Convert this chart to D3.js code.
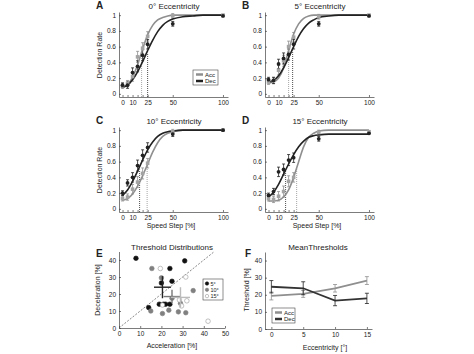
<!DOCTYPE html>
<html>
<head>
<meta charset="utf-8">
<script src="https://cdn.jsdelivr.net/npm/d3@7"></script>
<style>
body { margin: 0; background: #fff; }
svg { font-family: "Liberation Sans", Arial, sans-serif; }
.axis text { font-size: 6.5px; fill: #222; }
.axis path, .axis line { stroke: #444; stroke-width: 0.7; }
</style>
</head>
<body>
<script>
// speed steps and tick labels (A-D)
var stepX = [0, 5, 10, 15, 20, 25, 50, 100];
var stepTicks = [0, 5, 10, 15, 20, 25, 50, 100];
var stepLabels = {0: "0", 10: "10", 25: "25", 50: "50", 100: "100"};
var rateTicks = [0, 0.2, 0.4, 0.6, 0.8, 1];

// fitted curves at these speed steps
var fitX = [0, 5, 10, 15, 20, 25, 30, 35, 40, 45, 50, 60, 70, 80, 100];
var fitAccA = [0.08, 0.12, 0.21, 0.37, 0.57, 0.75, 0.87, 0.94, 0.97, 0.99, 1.0, 1.0, 1.0, 1.0, 1.0];
var fitDecA = [0.08, 0.11, 0.18, 0.28, 0.41, 0.55, 0.68, 0.79, 0.87, 0.92, 0.95, 0.98, 0.99, 1.0, 1.0];
var fitAccB = [0.14, 0.15, 0.20, 0.33, 0.55, 0.76, 0.89, 0.96, 0.99, 1.0, 1.0, 1.0, 1.0, 1.0, 1.0];
var fitDecB = [0.15, 0.17, 0.23, 0.33, 0.46, 0.60, 0.73, 0.83, 0.90, 0.94, 0.97, 0.99, 1.0, 1.0, 1.0];
var fitAccC = [0.11, 0.13, 0.19, 0.29, 0.42, 0.57, 0.72, 0.84, 0.92, 0.96, 0.98, 1.0, 1.0, 1.0, 1.0];
var fitDecC = [0.17, 0.24, 0.35, 0.48, 0.62, 0.75, 0.85, 0.92, 0.96, 0.98, 0.99, 1.0, 1.0, 1.0, 1.0];
var fitAccD = [0.10, 0.10, 0.11, 0.15, 0.24, 0.40, 0.60, 0.79, 0.91, 0.96, 0.99, 1.0, 1.0, 1.0, 1.0];
var fitDecD = [0.15, 0.21, 0.31, 0.44, 0.57, 0.69, 0.79, 0.86, 0.91, 0.93, 0.94, 0.95, 0.95, 0.95, 0.95];

// detection rates with error bars
var accA = [0.10, 0.13, 0.22, 0.47, 0.58, 0.73, 0.99, 1.0];
var decA = [0.11, 0.11, 0.27, 0.35, 0.49, 0.63, 0.89, 0.99];
var accB = [0.15, 0.17, 0.30, 0.42, 0.60, 0.72, 0.98, 1.0];
var decB = [0.18, 0.17, 0.38, 0.45, 0.50, 0.63, 0.89, 0.99];
var accC = [0.13, 0.15, 0.25, 0.34, 0.45, 0.58, 0.98, 1.0];
var decC = [0.20, 0.33, 0.40, 0.55, 0.68, 0.78, 0.95, 1.0];
var accD = [0.13, 0.12, 0.16, 0.22, 0.35, 0.40, 0.97, 0.98];
var decD = [0.17, 0.22, 0.47, 0.50, 0.62, 0.65, 0.89, 0.96];
var errRate = [0.03, 0.04, 0.06, 0.07, 0.07, 0.06, 0.03, 0.01];

// thresholds [speed, height of dotted line]
var thrA = {acc: [19, 0.48], dec: [25, 0.52]};
var thrB = {acc: [20, 0.53], dec: [24, 0.55]};
var thrC = {acc: [24.5, 0.55], dec: [17, 0.50]};
var thrD = {acc: [28, 0.52], dec: [17, 0.48]};

// E: individual thresholds
var acc5 = [8, 24, 31, 20, 25, 14, 19, 21, 22, 24];
var dec5 = [41, 35, 39.5, 26.5, 27.5, 12, 14, 14, 14, 14];
var acc10 = [15.5, 20, 15, 20.5, 23.5, 25, 28, 31.5, 35, 29];
var dec10 = [35, 29.5, 10, 8.5, 10.5, 17.5, 9.5, 9, 22, 14.5];
var acc15 = [19.5, 31.5, 20.5, 28.5, 29.5, 32, 42];
var dec15 = [35, 30, 13.5, 16.5, 13, 16, 4];
var meanAccE = [20.5, 25, 29];
var meanDecE = [24, 18.5, 18];
var sdAccE = [4, 4, 4.5];
var sdDecE = [6.5, 4, 6];
var tensTicks = [0, 10, 20, 30, 40, 50];

// F: mean thresholds
var eccX = [0, 5, 10, 15];
var accMean = [19.3, 20.5, 23.8, 28.3];
var accSem = [2.3, 2.0, 2.2, 2.3];
var decMean = [24.7, 23.8, 16.6, 17.9];
var decSem = [3.6, 3.8, 3.0, 3.0];

var grey = "#8f8f8f", dark = "#222";

var svg = d3.select("body")
	.append("svg")
	.attr("width", 474)
	.attr("height", 354);

function label(x, y, txt, size, opts) {
	opts = opts || {};
	var t = svg.append("text")
		.attr("x", x)
		.attr("y", y)
		.attr("font-size", size)
		.attr("fill", "#222")
		.attr("text-anchor", opts.anchor || "middle")
		.attr("font-weight", opts.bold ? "bold" : "normal")
		.text(txt);
	if (opts.rotate) t.attr("transform", "rotate(-90," + x + "," + y + ")");
	return t;
}

function errBars(g, xs, ys, es, x, y, color, cap) {
	xs.forEach(function(d, i) {
		var cx = x(d), lo = y(ys[i] - es[i]), hi = y(ys[i] + es[i]);
		g.append("line").attr("x1", cx).attr("x2", cx).attr("y1", lo).attr("y2", hi)
			.attr("stroke", color).attr("stroke-width", 0.8);
		[lo, hi].forEach(function(yy) {
			g.append("line").attr("x1", cx - cap).attr("x2", cx + cap).attr("y1", yy).attr("y2", yy)
				.attr("stroke", color).attr("stroke-width", 0.8);
		});
	});
}

// psychometric panel
function psyPanel(p) {
	var x = d3.scaleLinear().domain([-3.5, 105]).range([p.left, p.left + 109]);
	var y = d3.scaleLinear().domain([-0.04, 1.04]).range([p.bottom, p.bottom - 85]);
	var g = svg.append("g");

	g.append("g")
		.attr("class", "axis")
		.attr("transform", "translate(0," + p.bottom + ")")
		.call(d3.axisBottom(x).tickValues(stepTicks).tickSizeInner(-2).tickSizeOuter(0).tickPadding(3)
			.tickFormat(function(d) { return stepLabels[d] || ""; }));
	g.append("g")
		.attr("class", "axis")
		.attr("transform", "translate(" + p.left + ",0)")
		.call(d3.axisLeft(y).tickValues(rateTicks).tickSizeInner(-2).tickSizeOuter(0).tickPadding(3)
			.tickFormat(function(d) { return d; }));

	// threshold markers
	[[p.thr.acc, grey], [p.thr.dec, dark]].forEach(function(t) {
		g.append("line")
			.attr("x1", x(t[0][0])).attr("x2", x(t[0][0]))
			.attr("y1", p.bottom).attr("y2", y(t[0][1]))
			.attr("stroke", t[1]).attr("stroke-width", 0.8).attr("stroke-dasharray", "1,1");
	});

	var line = d3.line()
		.x(function(d, i) { return x(fitX[i]); })
		.y(function(d) { return y(d); })
		.curve(d3.curveMonotoneX);

	// error bars and points
	errBars(g, stepX, p.acc, errRate, x, y, grey, 1.5);
	errBars(g, stepX, p.dec, errRate, x, y, dark, 1.5);

	g.append("path").attr("d", line(p.fitAcc)).attr("fill", "none").attr("stroke", grey).attr("stroke-width", 1.6);
	g.append("path").attr("d", line(p.fitDec)).attr("fill", "none").attr("stroke", dark).attr("stroke-width", 1.6);

	g.selectAll(".sq")
		.data(p.acc)
		.enter().append("rect")
			.attr("x", function(d, i) { return x(stepX[i]) - 1.8; })
			.attr("y", function(d) { return y(d) - 1.8; })
			.attr("width", 3.6).attr("height", 3.6)
			.attr("fill", "#a3a3a3");
	g.selectAll(".dot")
		.data(p.dec)
		.enter().append("circle")
			.attr("cx", function(d, i) { return x(stepX[i]); })
			.attr("cy", function(d) { return y(d); })
			.attr("r", 1.9)
			.attr("fill", dark);

	label(p.left + 55, p.bottom - 88, p.title, 8);
	label(p.left - 23, p.bottom - 88, p.letter, 10, {bold: true, anchor: "start"});
	if (p.ylab) label(p.left - 17, p.bottom - 42, "Detection Rate", 7, {rotate: true});
	if (p.xlab) label(p.left + 52, p.bottom + 16, "Speed Step [%]", 7);

	if (p.legend) {
		var lx = 193, ly = 70;
		g.append("rect").attr("x", lx).attr("y", ly).attr("width", 25).attr("height", 15)
			.attr("fill", "#fff").attr("stroke", "#444").attr("stroke-width", 0.6);
		[["Acc", grey], ["Dec", dark]].forEach(function(e, i) {
			g.append("line").attr("x1", lx + 3).attr("x2", lx + 10)
				.attr("y1", ly + 4.5 + i * 6.5).attr("y2", ly + 4.5 + i * 6.5)
				.attr("stroke", e[1]).attr("stroke-width", 2.5);
			g.append("text").attr("x", lx + 12).attr("y", ly + 6.7 + i * 6.5)
				.attr("font-size", 6).attr("fill", "#222").text(e[0]);
		});
	}
}

psyPanel({left: 119, bottom: 97, title: "0\u00b0 Eccentricity", letter: "A", acc: accA, dec: decA,
	fitAcc: fitAccA, fitDec: fitDecA, thr: thrA, ylab: true, legend: true});
psyPanel({left: 265, bottom: 97, title: "5\u00b0 Eccentricity", letter: "B", acc: accB, dec: decB,
	fitAcc: fitAccB, fitDec: fitDecB, thr: thrB});
psyPanel({left: 119, bottom: 212, title: "10\u00b0 Eccentricity", letter: "C", acc: accC, dec: decC,
	fitAcc: fitAccC, fitDec: fitDecC, thr: thrC, ylab: true, xlab: true});
psyPanel({left: 265, bottom: 212, title: "15\u00b0 Eccentricity", letter: "D", acc: accD, dec: decD,
	fitAcc: fitAccD, fitDec: fitDecD, thr: thrD, xlab: true});

// E: threshold distributions
var xe = d3.scaleLinear().domain([0, 50]).range([119, 225]);
var ye = d3.scaleLinear().domain([0, 45]).range([328, 251.5]);
var ge = svg.append("g");

ge.append("g")
	.attr("class", "axis")
	.attr("transform", "translate(0,328)")
	.call(d3.axisBottom(xe).tickValues(tensTicks).tickSizeInner(-2).tickSizeOuter(0).tickPadding(3));
ge.append("g")
	.attr("class", "axis")
	.attr("transform", "translate(119,0)")
	.call(d3.axisLeft(ye).tickValues(tensTicks.slice(0, 5)).tickSizeInner(-2).tickSizeOuter(0).tickPadding(3));

// identity line
ge.append("line")
	.attr("x1", xe(0)).attr("y1", ye(0)).attr("x2", xe(45)).attr("y2", ye(45))
	.attr("stroke", "#555").attr("stroke-width", 0.7).attr("stroke-dasharray", "2,1.5");

var groupsE = [[acc5, dec5, "#111", "#111"], [acc10, dec10, "#808080", "#808080"], [acc15, dec15, "#fff", "#999"]];
groupsE.forEach(function(s) {
	ge.selectAll(null)
		.data(s[0])
		.enter().append("circle")
			.attr("cx", function(d) { return xe(d); })
			.attr("cy", function(d, i) { return ye(s[1][i]); })
			.attr("r", 2.3)
			.attr("fill", s[2])
			.attr("stroke", s[3])
			.attr("stroke-width", 0.6);
});

// mean crosses
var crossCol = ["#222", "#777", "#bbb"];
meanAccE.forEach(function(m, i) {
	ge.append("line").attr("x1", xe(m - sdAccE[i])).attr("x2", xe(m + sdAccE[i]))
		.attr("y1", ye(meanDecE[i])).attr("y2", ye(meanDecE[i]))
		.attr("stroke", crossCol[i]).attr("stroke-width", 1.4);
	ge.append("line").attr("x1", xe(m)).attr("x2", xe(m))
		.attr("y1", ye(meanDecE[i] - sdDecE[i])).attr("y2", ye(meanDecE[i] + sdDecE[i]))
		.attr("stroke", crossCol[i]).attr("stroke-width", 1.4);
});

label(172, 250, "Threshold Distributions", 8);
label(96, 257, "E", 10, {bold: true, anchor: "start"});
label(100, 290, "Deceleration [%]", 7, {rotate: true});
label(172, 348, "Acceleration [%]", 7);

// legend E
ge.append("rect").attr("x", 203).attr("y", 279).attr("width", 20).attr("height", 21)
	.attr("fill", "#fff").attr("stroke", "#444").attr("stroke-width", 0.6);
[["5\u00b0", "#111", "#111"], ["10\u00b0", "#808080", "#808080"], ["15\u00b0", "#fff", "#999"]].forEach(function(e, i) {
	ge.append("circle").attr("cx", 207).attr("cy", 283.5 + i * 6.3).attr("r", 1.7)
		.attr("fill", e[1]).attr("stroke", e[2]).attr("stroke-width", 0.6);
	ge.append("text").attr("x", 210.5).attr("y", 285.6 + i * 6.3)
		.attr("font-size", 5.5).attr("fill", "#222").text(e[0]);
});

// F: mean thresholds
var xf = d3.scaleLinear().domain([-1, 15.8]).range([265, 372]);
var yf = d3.scaleLinear().domain([0, 45]).range([329, 252]);
var gf = svg.append("g");

gf.append("g")
	.attr("class", "axis")
	.attr("transform", "translate(0,329)")
	.call(d3.axisBottom(xf).tickValues(eccX).tickSizeInner(-2).tickSizeOuter(0).tickPadding(3));
gf.append("g")
	.attr("class", "axis")
	.attr("transform", "translate(265,0)")
	.call(d3.axisLeft(yf).tickValues([0, 10, 20, 30, 40]).tickSizeInner(-2).tickSizeOuter(0).tickPadding(3));

var lineF = d3.line()
	.x(function(d, i) { return xf(eccX[i]); })
	.y(function(d) { return yf(d); });

gf.append("path").attr("d", lineF(accMean)).attr("fill", "none").attr("stroke", grey).attr("stroke-width", 1.8);
errBars(gf, eccX, accMean, accSem, xf, yf, grey, 2);
gf.append("path").attr("d", lineF(decMean)).attr("fill", "none").attr("stroke", "#333").attr("stroke-width", 1.8);
errBars(gf, eccX, decMean, decSem, xf, yf, "#222", 2);

label(318, 250, "MeanThresholds", 8);
label(245, 257, "F", 10, {bold: true, anchor: "start"});
label(249, 290, "Threshold [%]", 7, {rotate: true});
label(325, 350, "Eccentricity [\u00b0]", 7);

// legend F
gf.append("rect").attr("x", 272).attr("y", 308).attr("width", 23).attr("height", 15)
	.attr("fill", "#fff").attr("stroke", "#444").attr("stroke-width", 0.6);
[["Acc", grey], ["Dec", "#333"]].forEach(function(e, i) {
	gf.append("line").attr("x1", 275).attr("x2", 282)
		.attr("y1", 312.5 + i * 6.5).attr("y2", 312.5 + i * 6.5)
		.attr("stroke", e[1]).attr("stroke-width", 2.5);
	gf.append("text").attr("x", 284).attr("y", 314.7 + i * 6.5)
		.attr("font-size", 6).attr("fill", "#222").text(e[0]);
});
</script>
</body>
</html>
